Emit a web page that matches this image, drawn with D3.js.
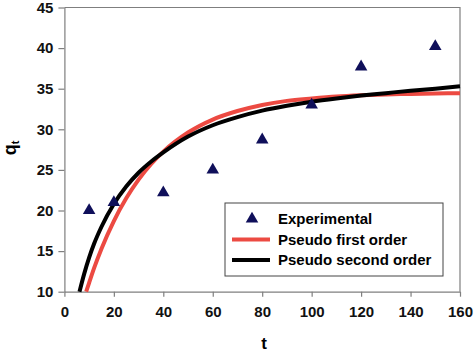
<!DOCTYPE html>
<html lang="en">
<head>
  <meta charset="UTF-8">
  <title>Kinetic fit</title>
  <script src="https://d3js.org/d3.v7.min.js"></script>
  <style>
    body { margin: 0; background: #fff; }
    svg { display: block; font-family: 'Liberation Sans', Arial, sans-serif; font-weight: bold; }
    .axis path, .axis line { stroke: #7f7f7f; stroke-width: 1.2px; }
    .axis text { font-size: 15px; fill: #111; font-weight: bold; }
  </style>
</head>
<body>
  <div id="chart"></div>
  <script>
    // experimental points
    const expT = [10, 20, 40, 60, 80, 100, 120, 150];
    const expQ = [20.0, 21.0, 22.2, 25.0, 28.7, 33.0, 37.7, 40.2];

    // pseudo first order curve
    const firstT = [8.8, 10, 12, 15, 20, 25, 30, 35, 40, 50, 60, 70, 80, 90, 100, 110, 120, 130, 140, 150, 160];
    const firstQ = [10.0, 11.1, 12.9, 15.3, 18.7, 21.5, 23.8, 25.7, 27.25, 29.6, 31.2, 32.25, 33.0, 33.5, 33.8, 34.05, 34.2, 34.3, 34.35, 34.4, 34.45];

    // pseudo second order curve
    const secondT = [6.1, 8, 10, 12, 15, 20, 25, 30, 35, 40, 50, 60, 70, 80, 90, 100, 110, 120, 130, 140, 150, 160];
    const secondQ = [10.0, 12.2, 14.2, 15.9, 18.0, 20.8, 22.95, 24.65, 26.0, 27.15, 29.1, 30.5, 31.5, 32.3, 32.9, 33.4, 33.8, 34.15, 34.45, 34.75, 35.0, 35.3];

    const xTicks = [0, 20, 40, 60, 80, 100, 120, 140, 160];
    const yTicks = [10, 15, 20, 25, 30, 35, 40, 45];
    const legendLabels = ["Experimental", "Pseudo first order", "Pseudo second order"];

    const W = 474, H = 352;
    const plot = { left: 64.4, right: 460, top: 7.5, bottom: 291.7 };

    const svg = d3.select("#chart").append("svg")
      .attr("width", W)
      .attr("height", H);

    const x = d3.scaleLinear().domain([0, 160]).range([plot.left, plot.right]);
    const y = d3.scaleLinear().domain([10, 45]).range([plot.bottom, plot.top]);

    // frame (top and right)
    svg.append("path")
      .attr("d", `M${plot.left},${plot.top}H${plot.right}V${plot.bottom}`)
      .attr("fill", "none")
      .attr("stroke", "#7f7f7f")
      .attr("stroke-width", 1.2);

    svg.append("g")
      .attr("class", "axis")
      .attr("transform", `translate(0,${plot.bottom})`)
      .call(d3.axisBottom(x).tickValues(xTicks).tickSize(5).tickPadding(10).tickSizeOuter(0));

    svg.append("g")
      .attr("class", "axis")
      .attr("transform", `translate(${plot.left},0)`)
      .call(d3.axisLeft(y).tickValues(yTicks).tickSize(6).tickPadding(5).tickSizeOuter(0));

    const line = d3.line()
      .x(d => x(d[0]))
      .y(d => y(d[1]))
      .curve(d3.curveMonotoneX);

    svg.append("path")
      .datum(d3.zip(firstT, firstQ))
      .attr("d", line)
      .attr("fill", "none")
      .attr("stroke", "#ec4a42")
      .attr("stroke-width", 4);

    svg.append("path")
      .datum(d3.zip(secondT, secondQ))
      .attr("d", line)
      .attr("fill", "none")
      .attr("stroke", "#000")
      .attr("stroke-width", 4);

    const tri = d3.symbol().type(d3.symbolTriangle).size(68);

    svg.selectAll(".pt")
      .data(d3.zip(expT, expQ))
      .join("path")
      .attr("class", "pt")
      .attr("d", tri)
      .attr("transform", d => `translate(${x(d[0])},${y(d[1])})`)
      .attr("fill", "#0f0f5a");

    // axis titles
    svg.append("text")
      .attr("x", 264)
      .attr("y", 348.5)
      .attr("text-anchor", "middle")
      .attr("font-size", 17)
      .text("t");

    const yt = svg.append("text")
      .attr("transform", `translate(16,148) rotate(-90)`)
      .attr("text-anchor", "middle")
      .attr("font-size", 18);
    yt.append("tspan").text("q");
    yt.append("tspan").attr("font-size", 11).attr("dy", 3).text("t");

    // legend
    const lg = svg.append("g").attr("transform", "translate(225,203)");
    lg.append("rect")
      .attr("width", 218)
      .attr("height", 73)
      .attr("fill", "#fff")
      .attr("stroke", "#444")
      .attr("stroke-width", 1);

    const rows = lg.selectAll(".row")
      .data(legendLabels)
      .join("g")
      .attr("transform", (d, i) => `translate(0,${16 + i * 20.5})`);

    rows.append("text")
      .attr("x", 53)
      .attr("dy", "0.36em")
      .attr("font-size", 15)
      .text(d => d);

    rows.filter((d, i) => i === 0).append("path")
      .attr("d", tri)
      .attr("transform", "translate(27,0)")
      .attr("fill", "#0f0f5a");

    rows.filter((d, i) => i > 0).append("line")
      .attr("x1", 7).attr("x2", 45)
      .attr("stroke", (d, i) => i === 0 ? "#ec4a42" : "#000")
      .attr("stroke-width", 4);
  </script>
</body>
</html>
